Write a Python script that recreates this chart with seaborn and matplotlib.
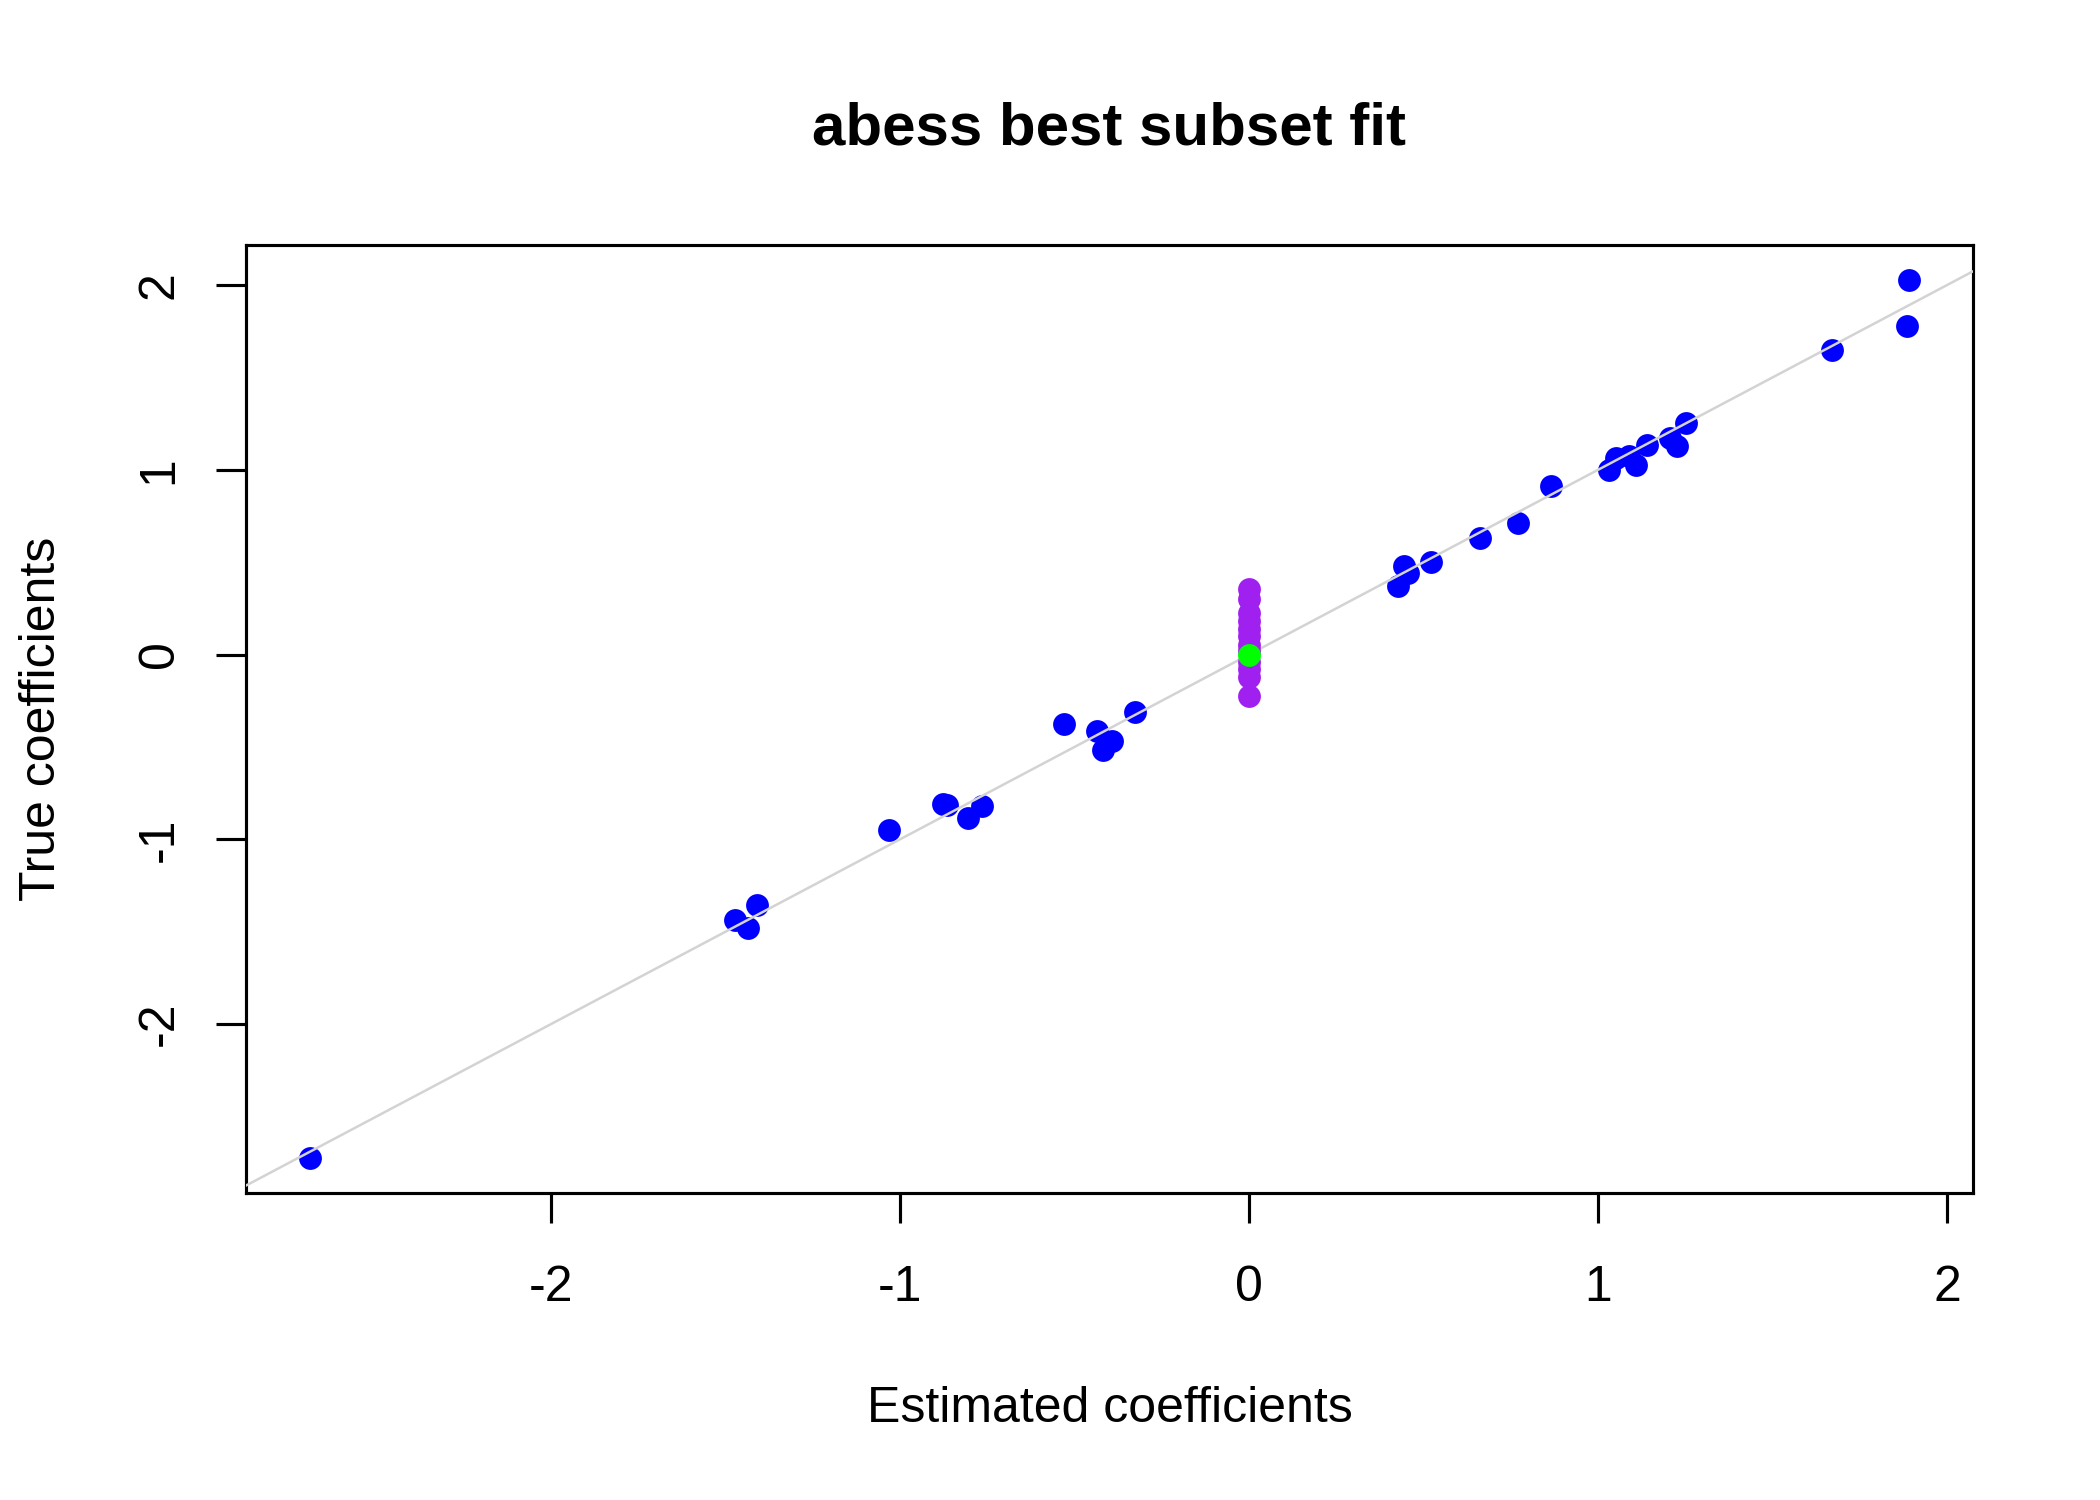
import numpy as np
import pandas as pd
import seaborn as sns
from matplotlib import pyplot as plt

# estimated vs true coefficients
est_selected = [-2.690, -1.472, -1.434, -1.410, -1.031, -0.878, -0.866, -0.805, -0.766,
                -0.531, -0.437, -0.418, -0.394, -0.328,
                0.426, 0.445, 0.454, 0.521, 0.660, 0.769, 0.865,
                1.031, 1.051, 1.089, 1.108, 1.139, 1.205, 1.227, 1.251,
                1.670, 1.885, 1.890]
true_selected = [-2.723, -1.434, -1.479, -1.353, -0.952, -0.806, -0.812, -0.884, -0.821,
                 -0.375, -0.415, -0.514, -0.469, -0.312,
                 0.370, 0.478, 0.442, 0.501, 0.631, 0.709, 0.911,
                 1.001, 1.064, 1.073, 1.028, 1.136, 1.172, 1.127, 1.254,
                 1.650, 1.780, 2.026]

# true nonzero coefficients estimated as zero
true_missed = [0.355, 0.300, 0.225, 0.180, 0.140, 0.100, 0.050, 0.020,
               -0.040, -0.080, -0.120, -0.225]

# true zeros estimated as zero
est_zero = [0.0]
true_zero = [0.0]

x_ticks = [-2, -1, 0, 1, 2]
y_ticks = [-2, -1, 0, 1, 2]

sel = pd.DataFrame({"est": est_selected, "true": true_selected})
missed = pd.DataFrame({"est": [0.0] * len(true_missed), "true": true_missed})
zero = pd.DataFrame({"est": est_zero, "true": true_zero})

sns.set_theme(style="white")
plt.rcParams["font.family"] = ["Liberation Sans", "DejaVu Sans"]

fig, ax = plt.subplots(figsize=(7, 5), dpi=300)
fig.subplots_adjust(left=0.1171, right=0.9395, top=0.8367, bottom=0.2047)

sns.scatterplot(data=sel, x="est", y="true", color="#0000FF", s=30,
                linewidth=0, ax=ax, zorder=2)
ax.axline((0, 0), slope=1, color="#D3D3D3", lw=0.6, zorder=3)
sns.scatterplot(data=missed, x="est", y="true", color="#A020F0", s=30,
                linewidth=0, ax=ax, zorder=4)
sns.scatterplot(data=zero, x="est", y="true", color="#00FF00", s=30,
                linewidth=0, ax=ax, zorder=5)

# R style 4% padding on the data range
all_x = np.concatenate([est_selected, [0.0] * len(true_missed), est_zero])
all_y = np.concatenate([true_selected, true_missed, true_zero])
rx = all_x.max() - all_x.min()
ry = all_y.max() - all_y.min()
ax.set_xlim(all_x.min() - 0.04 * rx, all_x.max() + 0.04 * rx)
ax.set_ylim(all_y.min() - 0.04 * ry, all_y.max() + 0.04 * ry)

ax.set_xticks(x_ticks)
ax.set_yticks(y_ticks)
ax.set_xticklabels([str(t) for t in x_ticks])
ax.set_yticklabels([str(t) for t in y_ticks])
ax.tick_params(axis="both", direction="out", length=7.2, width=0.75,
               color="black", labelsize=12, labelcolor="black",
               bottom=True, left=True, top=False, right=False)
ax.tick_params(axis="x", pad=10)
ax.tick_params(axis="y", pad=8, labelrotation=90)
for lab in ax.get_yticklabels():
    lab.set_verticalalignment("center")

for s in ax.spines.values():
    s.set_color("black")
    s.set_linewidth(0.75)

ax.set_xlabel("Estimated coefficients", fontsize=12, color="black", va="baseline")
ax.set_ylabel("True coefficients", fontsize=12, color="black", va="baseline")
ax.xaxis.set_label_coords(0.5, -0.2412)
ax.yaxis.set_label_coords(-0.1106, 0.5)
ax.set_title("abess best subset fit", fontsize=14.4, fontweight="bold",
             color="black", y=1.1055, pad=0, va="baseline")

fig.savefig("out.png", dpi=300)
